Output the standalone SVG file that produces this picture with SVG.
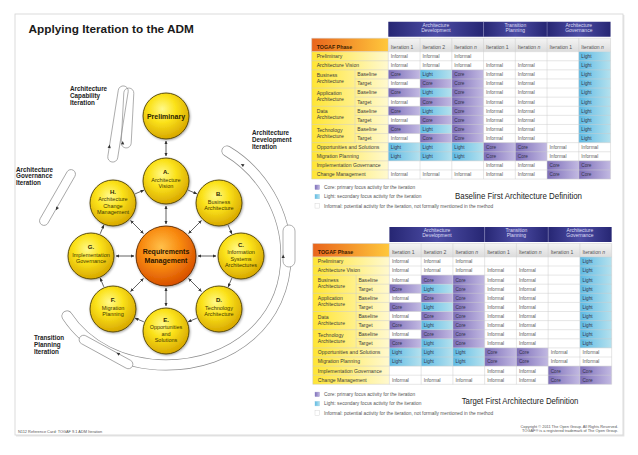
<svg xmlns="http://www.w3.org/2000/svg" width="638" height="455" viewBox="0 0 638 455">
<style>
text{font-family:"Liberation Sans",Arial,Helvetica,sans-serif}
.yc{fill:url(#gY);stroke:#4d4000;stroke-width:0.9;filter:url(#sh)}
.oc{fill:url(#gO);stroke:#5c2a00;stroke-width:0.9;filter:url(#sh)}
.pl{font-size:7px;font-weight:bold;fill:#2b2300;text-anchor:middle}
.lt{font-size:6px;font-weight:bold;fill:#2b2300;text-anchor:middle}
.nt{font-size:5.5px;fill:#3f3600;text-anchor:middle}
.rq{font-size:7px;font-weight:bold;fill:#2a1400;text-anchor:middle}
.cn line{stroke:#3a3a3a;stroke-width:0.8;fill:none}
.lp{fill:none;stroke:#8f8f8f;stroke-width:0.7}
.lpw{fill:#fff;stroke:#8f8f8f;stroke-width:0.7}
.lb{font-size:6.3px;font-weight:bold;fill:#222}
.hd{font-size:5px;fill:#dedef4;text-anchor:middle}
.ih{font-size:5.1px;fill:#555}
.pt{font-size:5.1px;fill:#3d3d3d}
.d{font-size:4.7px;fill:#5a5a5a}
.k{fill:#33334a}
.co{fill:url(#gCo)}
.li{fill:url(#gLi)}
.gl{fill:none;stroke:#cdcdcd;stroke-width:0.5}
.lg{font-size:4.8px;fill:#555}
.ti{font-size:8.6px;fill:#222}
.ft{font-size:3.9px;fill:#555}
</style>
<defs>
<radialGradient id="gY" cx="0.42" cy="0.35" r="0.65">
<stop offset="0" stop-color="#FFF98A"/><stop offset="0.45" stop-color="#FBE21A"/><stop offset="1" stop-color="#D8A800"/>
</radialGradient>
<radialGradient id="gO" cx="0.42" cy="0.35" r="0.65">
<stop offset="0" stop-color="#FFC04A"/><stop offset="0.5" stop-color="#F88A10"/><stop offset="1" stop-color="#D85000"/>
</radialGradient>
<linearGradient id="gCo"><stop offset="0" stop-color="#7C6DB8"/><stop offset="1" stop-color="#C2B9E2"/></linearGradient>
<linearGradient id="gLi"><stop offset="0" stop-color="#5DBAE4"/><stop offset="1" stop-color="#B4E1EE"/></linearGradient>
<linearGradient id="gPh"><stop offset="0" stop-color="#FFE533"/><stop offset="1" stop-color="#FFF9CF"/></linearGradient>
<linearGradient id="gOr"><stop offset="0" stop-color="#E9651C"/><stop offset="1" stop-color="#FFC83C"/></linearGradient>
<linearGradient id="gBl"><stop offset="0" stop-color="#262673"/><stop offset="0.5" stop-color="#4D4DA5"/><stop offset="1" stop-color="#262673"/></linearGradient>
<linearGradient id="gHd" x2="0" y2="1"><stop offset="0" stop-color="#F4F4F4"/><stop offset="1" stop-color="#DCDCDC"/></linearGradient>
<filter id="sh" x="-20%" y="-20%" width="150%" height="150%"><feDropShadow dx="0.8" dy="1" stdDeviation="0.8" flood-color="#000" flood-opacity="0.35"/></filter>
<marker id="ah" viewBox="0 0 10 10" refX="9" refY="5" markerWidth="3.6" markerHeight="3.6" markerUnits="userSpaceOnUse" orient="auto-start-reverse"><path d="M0,0.5 L10,5 L0,9.5 z" fill="#333"/></marker>
<path id="tri" d="M-1.6,1.4 L0,-2 L1.6,1.4 z" fill="#333"/>
<g id="tbBase">
<rect x="76.6" y="0" width="95.25" height="15" fill="url(#gBl)"/>
<rect x="171.85" y="0" width="63.5" height="15" fill="url(#gBl)"/>
<rect x="235.35" y="0" width="63.5" height="15" fill="url(#gBl)"/>
<path d="M171.85 0V15M235.35 0V15" stroke="#8a8ac0" stroke-width="0.5"/>
<rect x="0" y="16.5" width="76.6" height="13.4" fill="url(#gOr)"/>
<rect x="76.6" y="16.5" width="222.25" height="13.4" fill="url(#gHd)"/>
<rect x="0" y="29.9" width="76.6" height="127.4" fill="url(#gPh)"/>
<rect x="76.6" y="29.9" width="222.25" height="127.4" fill="#fff"/>
<rect class="co" x="140.1" y="48.1" width="31.75" height="72.8"/>
<rect class="li" x="267.1" y="29.9" width="31.75" height="91"/>
<rect class="li" x="76.6" y="120.9" width="31.75" height="18.2"/>
<rect class="li" x="108.35" y="120.9" width="31.75" height="18.2"/>
<rect class="li" x="140.1" y="120.9" width="31.75" height="18.2"/>
<rect class="co" x="171.85" y="120.9" width="31.75" height="18.2"/>
<rect class="co" x="203.6" y="120.9" width="31.75" height="18.2"/>
<rect class="co" x="235.35" y="139.1" width="31.75" height="18.2"/>
<rect class="co" x="267.1" y="139.1" width="31.75" height="18.2"/>
</g>
<path id="tbGrid" class="gl" d="M0 16.5H298.85M0 29.9H298.85M0 39H298.85M0 48.1H298.85M43.3 57.2H298.85M0 66.3H298.85M43.3 75.4H298.85M0 84.5H298.85M43.3 93.6H298.85M0 102.7H298.85M43.3 111.8H298.85M0 120.9H298.85M0 130H298.85M0 139.1H298.85M0 148.2H298.85M0 157.3H298.85M0 16.5V157.3M43.3 48.1V120.9M76.6 16.5V157.3M108.35 16.5V157.3M140.1 16.5V157.3M171.85 16.5V157.3M203.6 16.5V157.3M235.35 16.5V157.3M267.1 16.5V157.3M298.85 16.5V157.3"/>
<g id="tbText">
<text class="hd" x="124.2" y="5.3">Architecture</text><text class="hd" x="124.2" y="10.4">Development</text>
<text class="hd" x="203.6" y="5.3">Transition</text><text class="hd" x="203.6" y="10.4">Planning</text>
<text class="hd" x="267.1" y="5.3">Architecture</text><text class="hd" x="267.1" y="10.4">Governance</text>
<text x="5" y="26.8" font-size="5.3" font-weight="bold" fill="#3b1d00">TOGAF Phase</text>
<text class="ih" y="26.8"><tspan x="79.1">Iteration 1</tspan><tspan x="110.85">Iteration 2</tspan><tspan x="142.6">Iteration <tspan font-style="italic">n</tspan></tspan><tspan x="174.35">Iteration 1</tspan><tspan x="206.1">Iteration <tspan font-style="italic">n</tspan></tspan><tspan x="237.85">Iteration 1</tspan><tspan x="269.6">Iteration <tspan font-style="italic">n</tspan></tspan></text>
<text class="pt" x="5" y="36.3">Preliminary</text>
<text class="pt" x="5" y="45.4">Architecture Vision</text>
<text class="pt" x="5" y="55.2">Business</text><text class="pt" x="5" y="61.2">Architecture</text>
<text class="pt" x="5" y="73.4">Application</text><text class="pt" x="5" y="79.4">Architecture</text>
<text class="pt" x="5" y="91.6">Data</text><text class="pt" x="5" y="97.6">Architecture</text>
<text class="pt" x="5" y="109.8">Technology</text><text class="pt" x="5" y="115.8">Architecture</text>
<text class="pt" x="45.6" y="54.5">Baseline</text><text class="pt" x="45.6" y="63.6">Target</text>
<text class="pt" x="45.6" y="72.7">Baseline</text><text class="pt" x="45.6" y="81.8">Target</text>
<text class="pt" x="45.6" y="90.9">Baseline</text><text class="pt" x="45.6" y="100">Target</text>
<text class="pt" x="45.6" y="109.1">Baseline</text><text class="pt" x="45.6" y="118.2">Target</text>
<text class="pt" x="5" y="127.3">Opportunities and Solutions</text>
<text class="pt" x="5" y="136.4">Migration Planning</text>
<text class="pt" x="5" y="145.5">Implementation Governance</text>
<text class="pt" x="5" y="154.6">Change Management</text>
<text class="d" y="36.3"><tspan x="79.1">Informal</tspan><tspan x="110.85">Informal</tspan><tspan x="142.6">Informal</tspan><tspan class="k" x="269.6">Light</tspan></text>
<text class="d" y="45.4"><tspan x="79.1">Informal</tspan><tspan x="110.85">Informal</tspan><tspan x="142.6">Informal</tspan><tspan x="174.35">Informal</tspan><tspan x="206.1">Informal</tspan><tspan class="k" x="269.6">Light</tspan></text>
<text class="d" y="54.5"><tspan class="k" x="142.6">Core</tspan><tspan x="174.35">Informal</tspan><tspan x="206.1">Informal</tspan><tspan class="k" x="269.6">Light</tspan></text>
<text class="d" y="63.6"><tspan class="k" x="142.6">Core</tspan><tspan x="174.35">Informal</tspan><tspan x="206.1">Informal</tspan><tspan class="k" x="269.6">Light</tspan></text>
<text class="d" y="72.7"><tspan class="k" x="142.6">Core</tspan><tspan x="174.35">Informal</tspan><tspan x="206.1">Informal</tspan><tspan class="k" x="269.6">Light</tspan></text>
<text class="d" y="81.8"><tspan class="k" x="142.6">Core</tspan><tspan x="174.35">Informal</tspan><tspan x="206.1">Informal</tspan><tspan class="k" x="269.6">Light</tspan></text>
<text class="d" y="90.9"><tspan class="k" x="142.6">Core</tspan><tspan x="174.35">Informal</tspan><tspan x="206.1">Informal</tspan><tspan class="k" x="269.6">Light</tspan></text>
<text class="d" y="100"><tspan class="k" x="142.6">Core</tspan><tspan x="174.35">Informal</tspan><tspan x="206.1">Informal</tspan><tspan class="k" x="269.6">Light</tspan></text>
<text class="d" y="109.1"><tspan class="k" x="142.6">Core</tspan><tspan x="174.35">Informal</tspan><tspan x="206.1">Informal</tspan><tspan class="k" x="269.6">Light</tspan></text>
<text class="d" y="118.2"><tspan class="k" x="142.6">Core</tspan><tspan x="174.35">Informal</tspan><tspan x="206.1">Informal</tspan><tspan class="k" x="269.6">Light</tspan></text>
<text class="d" y="127.3"><tspan class="k" x="79.1">Light</tspan><tspan class="k" x="110.85">Light</tspan><tspan class="k" x="142.6">Light</tspan><tspan class="k" x="174.35">Core</tspan><tspan class="k" x="206.1">Core</tspan><tspan x="237.85">Informal</tspan><tspan x="269.6">Informal</tspan></text>
<text class="d" y="136.4"><tspan class="k" x="79.1">Light</tspan><tspan class="k" x="110.85">Light</tspan><tspan class="k" x="142.6">Light</tspan><tspan class="k" x="174.35">Core</tspan><tspan class="k" x="206.1">Core</tspan><tspan x="237.85">Informal</tspan><tspan x="269.6">Informal</tspan></text>
<text class="d" y="145.5"><tspan x="174.35">Informal</tspan><tspan x="206.1">Informal</tspan><tspan class="k" x="237.85">Core</tspan><tspan class="k" x="269.6">Core</tspan></text>
<text class="d" y="154.6"><tspan x="79.1">Informal</tspan><tspan x="110.85">Informal</tspan><tspan x="142.6">Informal</tspan><tspan x="174.35">Informal</tspan><tspan x="206.1">Informal</tspan><tspan class="k" x="237.85">Core</tspan><tspan class="k" x="269.6">Core</tspan></text>
</g>
</defs>

<rect width="638" height="455" fill="#fff"/>
<path d="M16 435.8H623.8V15" stroke="#e4e4e4" fill="none" stroke-width="1.2"/>
<rect x="15" y="14" width="608" height="421" fill="#fff" stroke="#d3d3d3" stroke-width="0.8"/>
<text x="28.5" y="32.5" font-size="11.8" font-weight="bold" fill="#1a1a1a">Applying Iteration to the ADM</text>

<g id="iterations">
<path d="M227,151 C262,172 286,212 286,255 C286,322 232,365 166,365 C122,365 86,345 67,316" fill="none" stroke="#8f8f8f" stroke-width="11" stroke-linecap="round"/>
<path d="M227,151 C262,172 286,212 286,255 C286,322 232,365 166,365 C122,365 86,345 67,316" fill="none" stroke="#fff" stroke-width="9.6" stroke-linecap="round"/>
<rect class="lpw" x="283" y="225" width="12" height="42" rx="6"/>
<rect class="lpw" x="-30" y="-4.5" width="60" height="9" rx="4.5" transform="translate(106,352) rotate(28.7)"/>
<rect class="lp" x="-5" y="-38.5" width="10" height="77" rx="5" transform="translate(118,124) rotate(9)"/>
<rect class="lp" x="-5" y="-30" width="10" height="60" rx="5" transform="translate(127.5,118) rotate(3)"/>
<rect class="lp" x="-4.5" y="-31.5" width="9" height="63" rx="4.5" transform="translate(57.5,197.5) rotate(29.9)"/>
<use href="#tri" transform="translate(109.4,146.5) rotate(9)"/>
<use href="#tri" transform="translate(122.7,143) rotate(3)"/>
<use href="#tri" transform="translate(56.9,208.5) rotate(210)"/>
<use href="#tri" transform="translate(242.5,165) rotate(-60)"/>
<use href="#tri" transform="translate(283.2,256.5)"/>
<use href="#tri" transform="translate(118.2,353.6) rotate(-61)"/>
</g>

<g id="iteration-labels">
<text class="lb" x="70" y="91.2">Architecture</text><text class="lb" x="70" y="98.2">Capability</text><text class="lb" x="70" y="105.2">Iteration</text>
<text class="lb" x="252" y="134.5">Architecture</text><text class="lb" x="252" y="141.5">Development</text><text class="lb" x="252" y="148.5">Iteration</text>
<text class="lb" x="16" y="171.5">Architecture</text><text class="lb" x="16" y="178.2">Governance</text><text class="lb" x="16" y="184.9">Iteration</text>
<text class="lb" x="34" y="339.5">Transition</text><text class="lb" x="34" y="346.5">Planning</text><text class="lb" x="34" y="353.5">Iteration</text>
</g>

<g id="connectors" class="cn">
<line x1="166" y1="141" x2="166" y2="156" marker-start="url(#ah)" marker-end="url(#ah)"/>
<line x1="166" y1="224" x2="166" y2="206" marker-start="url(#ah)" marker-end="url(#ah)"/>
<line x1="188.6" y1="233.4" x2="201.4" y2="220.6" marker-start="url(#ah)" marker-end="url(#ah)"/>
<line x1="198" y1="256" x2="216" y2="256" marker-start="url(#ah)" marker-end="url(#ah)"/>
<line x1="188.6" y1="278.6" x2="201.4" y2="291.4" marker-start="url(#ah)" marker-end="url(#ah)"/>
<line x1="166" y1="288" x2="166" y2="306" marker-start="url(#ah)" marker-end="url(#ah)"/>
<line x1="143.4" y1="278.6" x2="130.6" y2="291.4" marker-start="url(#ah)" marker-end="url(#ah)"/>
<line x1="134" y1="256" x2="116" y2="256" marker-start="url(#ah)" marker-end="url(#ah)"/>
<line x1="143.4" y1="233.4" x2="130.6" y2="220.6" marker-start="url(#ah)" marker-end="url(#ah)"/>
<line x1="135.2" y1="193.8" x2="143.8" y2="190.2" marker-end="url(#ah)"/>
<line x1="188.2" y1="190.2" x2="196.8" y2="193.8" marker-end="url(#ah)"/>
<line x1="228.2" y1="225.2" x2="231.8" y2="233.8" marker-end="url(#ah)"/>
<line x1="231.8" y1="278.2" x2="228.2" y2="286.8" marker-end="url(#ah)"/>
<line x1="196.8" y1="318.2" x2="188.2" y2="321.8" marker-end="url(#ah)"/>
<line x1="143.8" y1="321.8" x2="135.2" y2="318.2" marker-end="url(#ah)"/>
<line x1="103.8" y1="286.8" x2="100.2" y2="278.2" marker-end="url(#ah)"/>
<line x1="100.2" y1="233.8" x2="103.8" y2="225.2" marker-end="url(#ah)"/>
</g>

<g id="node-preliminary"><circle class="yc" cx="166" cy="116" r="23"/><text class="pl" x="166" y="118.5">Preliminary</text></g>
<g id="node-a"><circle class="yc" cx="166" cy="181" r="23"/><text class="lt" x="166" y="174.3">A.</text><text class="nt" x="166" y="181.7">Architecture</text><text class="nt" x="166" y="188.4">Vision</text></g>
<g id="node-b"><circle class="yc" cx="219" cy="203" r="23"/><text class="lt" x="219" y="196.3">B.</text><text class="nt" x="219" y="203.7">Business</text><text class="nt" x="219" y="210.4">Architecture</text></g>
<g id="node-c"><circle class="yc" cx="241" cy="256" r="23"/><text class="lt" x="241" y="247">C.</text><text class="nt" x="241" y="254">Information</text><text class="nt" x="241" y="260.7">Systems</text><text class="nt" x="241" y="267.4">Architectures</text></g>
<g id="node-d"><circle class="yc" cx="219" cy="309" r="23"/><text class="lt" x="219" y="302.3">D.</text><text class="nt" x="219" y="309.7">Technology</text><text class="nt" x="219" y="316.4">Architecture</text></g>
<g id="node-e"><circle class="yc" cx="166" cy="331" r="23"/><text class="lt" x="166" y="322">E.</text><text class="nt" x="166" y="329">Opportunities</text><text class="nt" x="166" y="335.7">and</text><text class="nt" x="166" y="342.4">Solutions</text></g>
<g id="node-f"><circle class="yc" cx="113" cy="309" r="23"/><text class="lt" x="113" y="302.3">F.</text><text class="nt" x="113" y="309.7">Migration</text><text class="nt" x="113" y="316.4">Planning</text></g>
<g id="node-g"><circle class="yc" cx="91" cy="256" r="23"/><text class="lt" x="91" y="249.3">G.</text><text class="nt" x="91" y="256.7" font-size="5">Implementation</text><text class="nt" x="91" y="263.4">Governance</text></g>
<g id="node-h"><circle class="yc" cx="113" cy="203" r="23"/><text class="lt" x="113" y="194">H.</text><text class="nt" x="113" y="201">Architecture</text><text class="nt" x="113" y="207.7">Change</text><text class="nt" x="113" y="214.4">Management</text></g>
<g id="node-requirements"><circle class="oc" cx="166" cy="256" r="30"/><text class="rq" x="166" y="254.2">Requirements</text><text class="rq" x="166" y="262.5">Management</text></g>

<g id="table-baseline-first" transform="translate(311.7,21.75)">
<use href="#tbBase"/>
<rect class="co" x="76.6" y="48.1" width="31.75" height="9.1"/><rect class="co" x="76.6" y="66.3" width="31.75" height="9.1"/><rect class="co" x="76.6" y="84.5" width="31.75" height="9.1"/><rect class="co" x="76.6" y="102.7" width="31.75" height="9.1"/>
<rect class="li" x="108.35" y="48.1" width="31.75" height="9.1"/><rect class="li" x="108.35" y="66.3" width="31.75" height="9.1"/><rect class="li" x="108.35" y="84.5" width="31.75" height="9.1"/><rect class="li" x="108.35" y="102.7" width="31.75" height="9.1"/>
<rect class="co" x="108.35" y="57.2" width="31.75" height="9.1"/><rect class="co" x="108.35" y="75.4" width="31.75" height="9.1"/><rect class="co" x="108.35" y="93.6" width="31.75" height="9.1"/><rect class="co" x="108.35" y="111.8" width="31.75" height="9.1"/>
<use href="#tbGrid"/>
<use href="#tbText"/>
<text class="d" y="54.5"><tspan class="k" x="79.1">Core</tspan><tspan class="k" x="110.85">Light</tspan></text>
<text class="d" y="63.6"><tspan x="79.1">Informal</tspan><tspan class="k" x="110.85">Core</tspan></text>
<text class="d" y="72.7"><tspan class="k" x="79.1">Core</tspan><tspan class="k" x="110.85">Light</tspan></text>
<text class="d" y="81.8"><tspan x="79.1">Informal</tspan><tspan class="k" x="110.85">Core</tspan></text>
<text class="d" y="90.9"><tspan class="k" x="79.1">Core</tspan><tspan class="k" x="110.85">Light</tspan></text>
<text class="d" y="100"><tspan x="79.1">Informal</tspan><tspan class="k" x="110.85">Core</tspan></text>
<text class="d" y="109.1"><tspan class="k" x="79.1">Core</tspan><tspan class="k" x="110.85">Light</tspan></text>
<text class="d" y="118.2"><tspan x="79.1">Informal</tspan><tspan class="k" x="110.85">Core</tspan></text>
</g>

<g id="legend-baseline-first">
<rect x="315" y="185" width="4.5" height="4.5" fill="url(#gCo)" stroke="#9a90c8" stroke-width="0.4"/>
<rect x="315" y="194.3" width="4.5" height="4.5" fill="url(#gLi)" stroke="#8cc8e0" stroke-width="0.4"/>
<rect x="315" y="203.6" width="4.5" height="4.5" fill="#fff" stroke="#ccc" stroke-width="0.4"/>
<text class="lg" x="324" y="188.9">Core: primary focus activity for the iteration</text>
<text class="lg" x="324" y="198.2">Light: secondary focus activity for the iteration</text>
<text class="lg" x="324" y="207.5">Informal: potential activity for the iteration, not formally mentioned in the method</text>
<text class="ti" x="455" y="199.2" textLength="127" lengthAdjust="spacingAndGlyphs">Baseline First Architecture Definition</text>
</g>

<g id="table-target-first" transform="translate(312.8,227)">
<use href="#tbBase"/>
<rect class="co" x="108.35" y="48.1" width="31.75" height="9.1"/><rect class="co" x="108.35" y="66.3" width="31.75" height="9.1"/><rect class="co" x="108.35" y="84.5" width="31.75" height="9.1"/><rect class="co" x="108.35" y="102.7" width="31.75" height="9.1"/>
<rect class="co" x="76.6" y="57.2" width="31.75" height="9.1"/><rect class="co" x="76.6" y="75.4" width="31.75" height="9.1"/><rect class="co" x="76.6" y="93.6" width="31.75" height="9.1"/><rect class="co" x="76.6" y="111.8" width="31.75" height="9.1"/>
<rect class="li" x="108.35" y="57.2" width="31.75" height="9.1"/><rect class="li" x="108.35" y="75.4" width="31.75" height="9.1"/><rect class="li" x="108.35" y="93.6" width="31.75" height="9.1"/><rect class="li" x="108.35" y="111.8" width="31.75" height="9.1"/>
<use href="#tbGrid"/>
<use href="#tbText"/>
<text class="d" y="54.5"><tspan x="79.1">Informal</tspan><tspan class="k" x="110.85">Core</tspan></text>
<text class="d" y="63.6"><tspan class="k" x="79.1">Core</tspan><tspan class="k" x="110.85">Light</tspan></text>
<text class="d" y="72.7"><tspan x="79.1">Informal</tspan><tspan class="k" x="110.85">Core</tspan></text>
<text class="d" y="81.8"><tspan class="k" x="79.1">Core</tspan><tspan class="k" x="110.85">Light</tspan></text>
<text class="d" y="90.9"><tspan x="79.1">Informal</tspan><tspan class="k" x="110.85">Core</tspan></text>
<text class="d" y="100"><tspan class="k" x="79.1">Core</tspan><tspan class="k" x="110.85">Light</tspan></text>
<text class="d" y="109.1"><tspan x="79.1">Informal</tspan><tspan class="k" x="110.85">Core</tspan></text>
<text class="d" y="118.2"><tspan class="k" x="79.1">Core</tspan><tspan class="k" x="110.85">Light</tspan></text>
</g>

<g id="legend-target-first">
<rect x="315" y="392.1" width="4.5" height="4.5" fill="url(#gCo)" stroke="#9a90c8" stroke-width="0.4"/>
<rect x="315" y="401.4" width="4.5" height="4.5" fill="url(#gLi)" stroke="#8cc8e0" stroke-width="0.4"/>
<rect x="315" y="410.7" width="4.5" height="4.5" fill="#fff" stroke="#ccc" stroke-width="0.4"/>
<text class="lg" x="324" y="396">Core: primary focus activity for the iteration</text>
<text class="lg" x="324" y="405.3">Light: secondary focus activity for the iteration</text>
<text class="lg" x="324" y="414.6">Informal: potential activity for the iteration, not formally mentioned in the method</text>
<text class="ti" x="461.7" y="403.8" textLength="116.6" lengthAdjust="spacingAndGlyphs">Target First Architecture Definition</text>
</g>

<g id="footer">
<text class="ft" x="618" y="428" text-anchor="end">Copyright © 2011 The Open Group. All Rights Reserved.</text>
<text class="ft" x="618" y="432.4" text-anchor="end">TOGAF® is a registered trademark of The Open Group.</text>
<text class="ft" x="18" y="433" font-size="3.6">N112 Reference Card: TOGAF 9.1 ADM Iteration</text>
</g>
</svg>
